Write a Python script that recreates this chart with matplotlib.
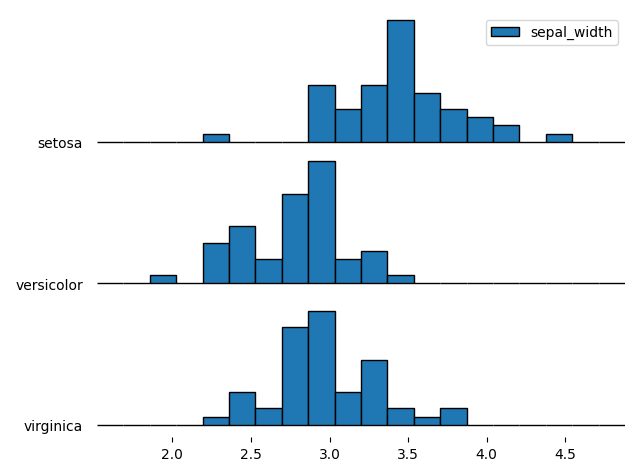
import numpy as np
import matplotlib
matplotlib.use("Agg")
import matplotlib.pyplot as plt

# Data (histogram counts, 20 bins over 1.52..4.88)
species = ["setosa", "versicolor", "virginica"]
bin_lo, bin_hi, n_bins = 1.52, 4.88, 20
setosa_counts = [0, 0, 0, 0, 1, 0, 0, 0, 7, 4, 7, 15, 6, 4, 3, 2, 0, 1, 0, 0]
versicolor_counts = [0, 0, 1, 0, 5, 7, 3, 11, 15, 3, 4, 1, 0, 0, 0, 0, 0, 0, 0, 0]
virginica_counts = [0, 0, 0, 0, 1, 4, 2, 12, 14, 4, 8, 2, 1, 2, 0, 0, 0, 0, 0, 0]
series_label = "sepal_width"
xticks = [2.0, 2.5, 3.0, 3.5, 4.0, 4.5]

all_counts = [setosa_counts, versicolor_counts, virginica_counts]
edges = np.linspace(bin_lo, bin_hi, n_bins + 1)

fig = plt.figure(figsize=(6.4, 4.77), dpi=100)
left, width = 97 / 640, 528 / 640
h = 141.5 / 477
bottoms = [321.7 / 477, 180.2 / 477, 38.7 / 477]

for i, (name, counts) in enumerate(zip(species, all_counts)):
    ax = fig.add_axes([left, bottoms[i], width, h])
    ax.patch.set_alpha(0)
    ax.bar(edges[:-1], counts, width=np.diff(edges), align="edge",
           color="#1f77b4", edgecolor="black", linewidth=1.0,
           label=series_label)
    ax.set_xlim(bin_lo, bin_hi)
    ax.set_ylim(-1.55, 15.85)
    for s in ax.spines.values():
        s.set_visible(False)
    ax.set_yticks([0])
    ax.set_yticklabels([name], fontsize=10)
    ax.tick_params(axis="y", length=0, pad=10)
    if i < 2:
        ax.set_xticks([])
    else:
        ax.set_xticks(xticks)
        ax.set_xticklabels([f"{t:.1f}" for t in xticks])
    if i == 0:
        ax.legend(loc="upper right")

fig.savefig("out.png", dpi=100)
